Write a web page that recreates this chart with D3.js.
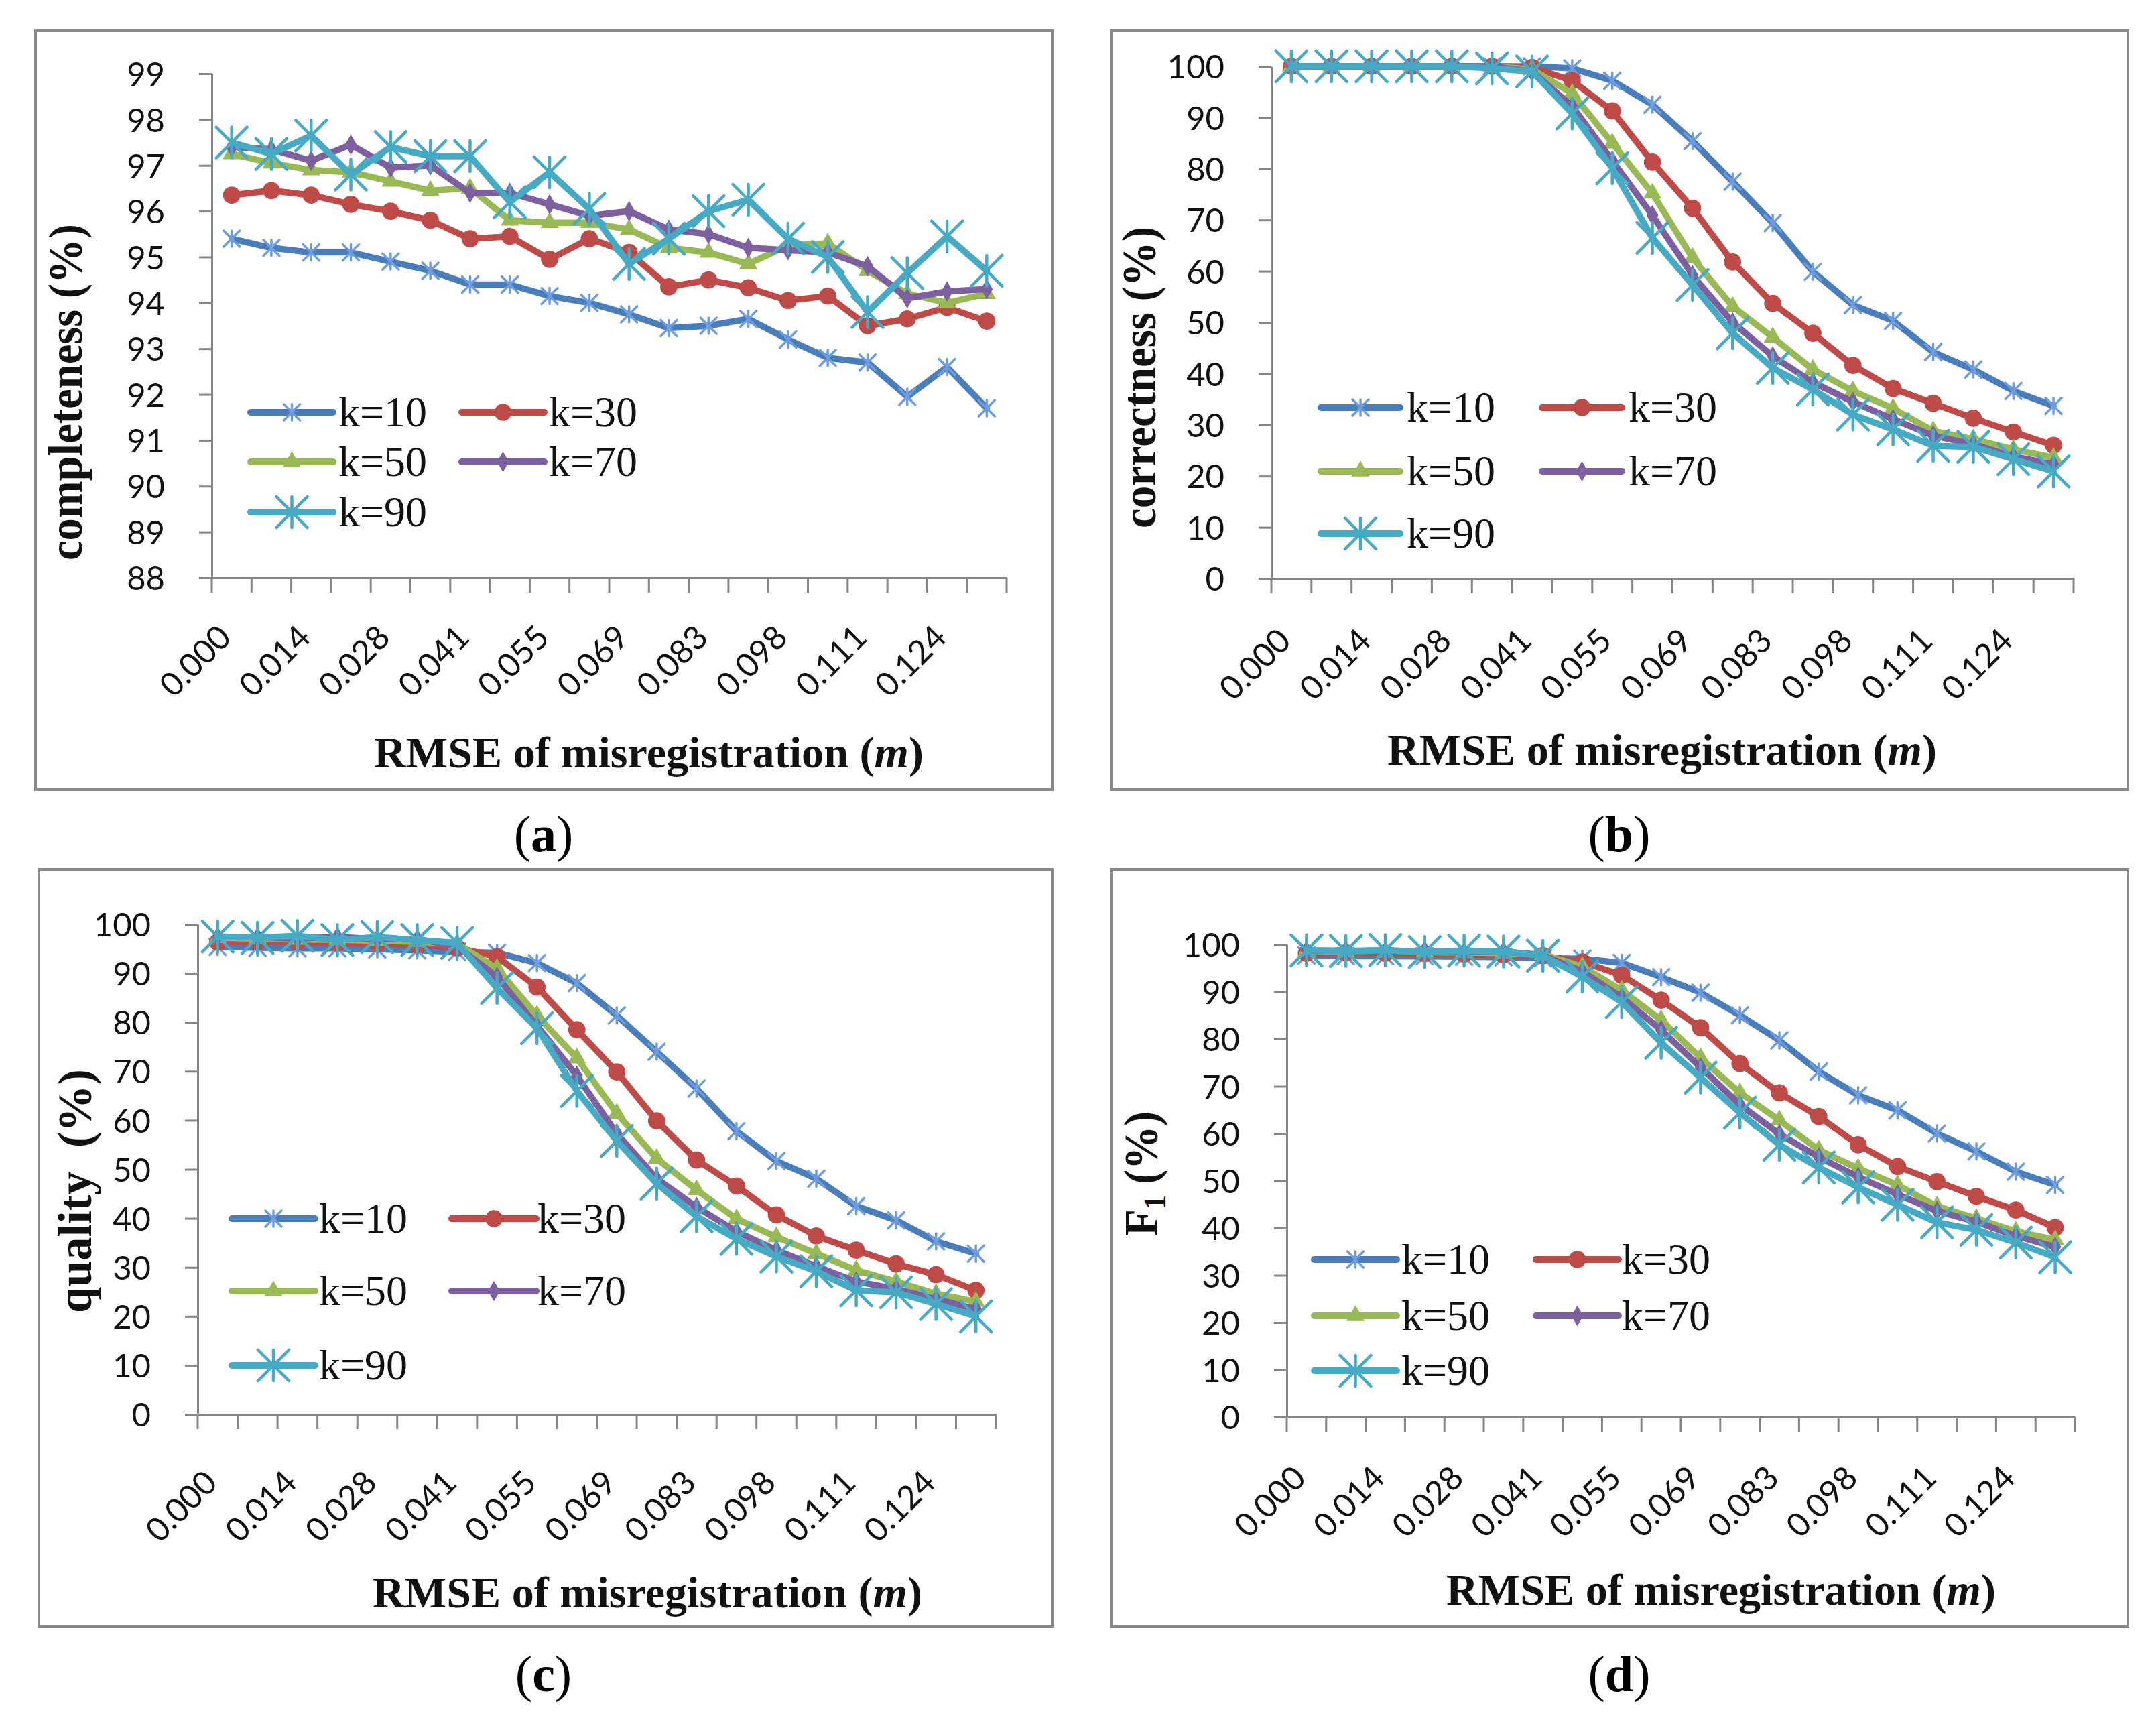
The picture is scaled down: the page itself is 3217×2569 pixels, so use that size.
<!DOCTYPE html>
<html lang="en">
<head>
<meta charset="UTF-8">
<title>Accuracy vs. RMSE of misregistration</title>
<script src="https://d3js.org/d3.v7.min.js"></script>
<style>
  body { margin: 0; background: #fff; }
  svg { display: block; }
</style>
</head>
<body>
<div id="chart"></div>
<script>
  // x categories: RMSE of misregistration (m); only every other one is labelled
  const rmse = ["0.000", "0.007", "0.014", "0.021", "0.028", "0.034", "0.041", "0.048", "0.055", "0.062",
                "0.069", "0.076", "0.083", "0.090", "0.098", "0.104", "0.111", "0.117", "0.124", "0.131"];
  const rmseLabels = rmse.filter((d, i) => i % 2 === 0);
  const seriesNames = ["k=10", "k=30", "k=50", "k=70", "k=90"];

  // y tick labels
  const ticksCompleteness = [88, 89, 90, 91, 92, 93, 94, 95, 96, 97, 98, 99];
  const ticksPercent = [0, 10, 20, 30, 40, 50, 60, 70, 80, 90, 100];

  // (a) completeness (%)
  const complK10 = [95.4, 95.2, 95.1, 95.1, 94.9, 94.7, 94.4, 94.4, 94.15, 94.0, 93.75, 93.45, 93.5, 93.65, 93.2, 92.8, 92.7, 91.95, 92.6, 91.7];
  const complK30 = [96.35, 96.45, 96.35, 96.15, 96.0, 95.8, 95.4, 95.45, 94.95, 95.4, 95.1, 94.35, 94.5, 94.33, 94.05, 94.15, 93.5, 93.65, 93.9, 93.6];
  const complK50 = [97.25, 97.05, 96.9, 96.85, 96.65, 96.45, 96.5, 95.8, 95.75, 95.75, 95.6, 95.2, 95.1, 94.85, 95.25, 95.3, 94.7, 94.2, 94.0, 94.2];
  const complK70 = [97.4, 97.35, 97.1, 97.45, 96.95, 97.0, 96.4, 96.4, 96.15, 95.9, 96.0, 95.6, 95.5, 95.2, 95.15, 95.1, 94.8, 94.1, 94.25, 94.3];
  const complK90 = [97.5, 97.25, 97.65, 96.8, 97.4, 97.2, 97.2, 96.2, 96.85, 96.05, 94.85, 95.4, 96.0, 96.25, 95.4, 95.0, 93.8, 94.65, 95.45, 94.7];

  // (b) correctness (%)
  const corrK10 = [100, 100, 100, 100, 100, 100, 100, 99.6, 97.2, 92.5, 85.4, 77.5, 69.4, 59.9, 53.4, 50.3, 44.2, 40.8, 36.6, 33.7];
  const corrK30 = [100, 100, 100, 100, 100, 100, 99.8, 97.2, 91.3, 81.3, 72.3, 61.8, 53.7, 47.9, 41.6, 37.1, 34.2, 31.3, 28.6, 26.0];
  const corrK50 = [100, 100, 100, 100, 100, 100, 99.4, 94.7, 85.0, 75.2, 62.6, 53.1, 47.1, 40.8, 36.6, 33.2, 28.8, 27.2, 25.2, 23.6];
  const corrK70 = [100, 100, 100, 100, 100, 100, 99.0, 92.2, 81.6, 70.9, 59.2, 50.0, 43.4, 38.3, 34.5, 31.1, 27.9, 26.2, 23.8, 22.3];
  const corrK90 = [100, 100, 100, 100, 100, 99.6, 99.0, 90.8, 80.1, 66.5, 57.3, 47.9, 41.1, 36.9, 32.0, 29.1, 25.9, 25.7, 23.3, 20.9];

  // (c) quality (%)
  const qualK10 = [95.4, 95.2, 95.1, 95.1, 94.9, 94.7, 94.4, 94.2, 92.1, 88.0, 81.4, 74.0, 66.5, 57.8, 51.7, 48.1, 42.5, 39.6, 35.3, 32.8];
  const qualK30 = [96.35, 96.45, 96.35, 96.15, 96.0, 95.8, 95.2, 93.4, 87.2, 78.5, 69.9, 59.9, 51.9, 46.6, 40.7, 36.4, 33.5, 30.7, 28.5, 25.3];
  const qualK50 = [97.25, 97.05, 96.9, 96.85, 96.65, 96.45, 96.0, 91.0, 81.4, 72.7, 61.4, 52.2, 45.8, 39.9, 36.2, 32.8, 29.4, 27.1, 24.6, 23.0];
  const qualK70 = [97.4, 97.35, 97.1, 97.45, 96.95, 97.0, 95.5, 89.3, 79.3, 69.1, 57.3, 48.1, 42.3, 37.3, 33.5, 30.2, 27.1, 25.6, 23.5, 21.5];
  const qualK90 = [97.5, 97.25, 97.65, 96.8, 97.4, 96.8, 96.2, 87.0, 78.8, 66.0, 55.8, 47.1, 40.4, 35.8, 32.2, 29.2, 25.3, 24.9, 22.5, 20.0];

  // (d) F1 (%)
  const f1K10 = [97.65, 97.55, 97.5, 97.5, 97.4, 97.3, 97.1, 97.0, 96.1, 93.1, 89.8, 85.0, 79.7, 73.1, 68.1, 64.9, 60.0, 56.2, 51.9, 49.1];
  const f1K30 = [98.15, 98.2, 98.15, 98.05, 97.95, 97.85, 97.6, 96.3, 93.5, 88.2, 82.4, 74.8, 68.6, 63.6, 57.6, 53.0, 49.8, 46.7, 43.8, 40.1];
  const f1K50 = [98.6, 98.5, 98.4, 98.4, 98.3, 98.2, 97.9, 95.3, 90.3, 84.0, 76.0, 68.6, 62.8, 56.5, 52.6, 49.1, 44.6, 42.0, 39.3, 37.5];
  const f1K70 = [98.7, 98.65, 98.5, 98.7, 98.45, 98.5, 97.7, 94.3, 88.8, 81.9, 74.0, 66.1, 59.9, 55.0, 50.8, 47.1, 43.6, 41.3, 38.3, 36.0];
  const f1K90 = [98.75, 98.6, 98.8, 98.4, 98.7, 98.5, 97.6, 93.2, 87.8, 79.2, 71.8, 64.4, 57.6, 52.8, 48.6, 44.9, 41.2, 39.6, 36.9, 33.8];

  const width = 3217;
  const height = 2569;
  const serif = "'Liberation Serif', 'Times New Roman', serif";
  const sans = "Lato, 'Open Sans', sans-serif";
  const axisColor = "#868686";

  function starPath(h) {
    return `M${-h},${-h}L${h},${h}M${-h},${h}L${h},${-h}M0,${-h}L0,${h}`;
  }

  // look of each series (same order as seriesNames)
  const seriesStyle = [
    { color: "#4a7ebb", marker: starPath(12), mStroke: "#6d9de0", mWidth: 3.5, filled: false },
    { color: "#be4b48", marker: d3.symbol(d3.symbolCircle, 520)(), filled: true },
    { color: "#98b954", marker: d3.symbol(d3.symbolTriangle, 320)(), filled: true },
    { color: "#7d60a0", marker: d3.symbol(d3.symbolDiamond, 270)(), filled: true },
    { color: "#46aac5", marker: starPath(23), mStroke: "#46aac5", mWidth: 4.5, filled: false }
  ];

  const svg = d3.select("#chart")
    .append("svg")
    .attr("width", width)
    .attr("height", height)
    .style("background", "#fff");

  function addMarker(sel, s) {
    sel.attr("d", s.marker);
    if (s.filled) {
      sel.attr("fill", s.color).attr("stroke", "none");
    } else {
      sel.attr("fill", "none").attr("stroke", s.mStroke).attr("stroke-width", s.mWidth)
        .attr("stroke-linecap", "round");
    }
  }

  function drawPanel(p) {
    const g = svg.append("g");

    // frame
    g.append("rect")
      .attr("x", p.box[0]).attr("y", p.box[1])
      .attr("width", p.box[2] - p.box[0]).attr("height", p.box[3] - p.box[1])
      .attr("fill", "none").attr("stroke", "#8a8a8a").attr("stroke-width", 4);

    const x = d3.scaleBand().domain(rmse).range([p.x0, p.x1]).padding(0);
    const y = d3.scaleLinear().domain(d3.extent(p.yTicks)).range([p.yBottom, p.yTop]);
    const cx = c => x(c) + x.bandwidth() / 2;

    // y axis
    const yAxis = g.append("g")
      .attr("transform", `translate(${p.x0},0)`)
      .call(d3.axisLeft(y).tickValues(p.yTicks).tickSize(19).tickSizeOuter(0).tickPadding(51));
    yAxis.select(".domain").attr("stroke", axisColor).attr("stroke-width", 3);
    yAxis.selectAll(".tick line").attr("stroke", axisColor).attr("stroke-width", 3);
    yAxis.selectAll("text")
      .attr("font-family", sans).attr("font-size", 49).attr("fill", "#111")
      .attr("dy", "0.36em");

    // x axis: labels on every other category, tick marks between categories
    const xAxis = g.append("g")
      .attr("transform", `translate(0,${p.yBottom})`)
      .call(d3.axisBottom(x).tickValues(rmseLabels).tickSize(0).tickSizeOuter(0));
    xAxis.select(".domain").attr("stroke", axisColor).attr("stroke-width", 3);
    xAxis.selectAll("text")
      .attr("y", null).attr("dy", null)
      .attr("text-anchor", "end")
      .attr("transform", `translate(2,${p.xLabelOffset}) rotate(-45)`)
      .attr("font-family", sans).attr("font-size", 49).attr("fill", "#111");

    const edges = rmse.map(c => x(c)).concat([x.range()[1]]);
    g.append("g").selectAll("line")
      .data(edges)
      .join("line")
      .attr("x1", d => d).attr("x2", d => d)
      .attr("y1", p.yBottom).attr("y2", p.yBottom + 22)
      .attr("stroke", axisColor).attr("stroke-width", 3);

    // series
    p.series.forEach((vals, si) => {
      const s = seriesStyle[si];
      const pts = vals.map((v, i) => [cx(rmse[i]), y(v)]);
      g.append("path")
        .attr("d", d3.line()(pts))
        .attr("fill", "none").attr("stroke", s.color).attr("stroke-width", 9.5)
        .attr("stroke-linejoin", "round").attr("stroke-linecap", "round");
      g.append("g").selectAll("path")
        .data(pts)
        .join("path")
        .attr("transform", d => `translate(${d[0]},${d[1]})`)
        .call(addMarker, s);
    });

    // legend: two columns, three rows
    seriesNames.forEach((name, si) => {
      const s = seriesStyle[si];
      const col = si % 2;
      const row = Math.floor(si / 2);
      const line = p.legCols[col];
      const ly = p.legRows[row];
      const lg = g.append("g");
      lg.append("line")
        .attr("x1", line[0]).attr("x2", line[1]).attr("y1", ly).attr("y2", ly)
        .attr("stroke", s.color).attr("stroke-width", 10).attr("stroke-linecap", "round");
      lg.append("path")
        .attr("transform", `translate(${(line[0] + line[1]) / 2},${ly})`)
        .call(addMarker, s);
      lg.append("text")
        .attr("x", line[2]).attr("y", ly + 21)
        .attr("font-family", serif).attr("font-size", 64).attr("fill", "#111")
        .text(name);
    });

    // y title
    const yt = g.append("text")
      .attr("transform", `translate(${p.yTitle[0]},${p.yTitle[1]}) rotate(-90)`)
      .attr("text-anchor", "middle")
      .attr("font-family", serif).attr("font-weight", "bold").attr("font-size", 72)
      .attr("fill", "#111")
      .style("white-space", "pre")
      .attr("textLength", p.yTitle[2]).attr("lengthAdjust", "spacingAndGlyphs");
    if (p.yTitleSub) {
      yt.append("tspan").text(p.yTitleText);
      yt.append("tspan").attr("font-size", 46).attr("dy", 12).text(p.yTitleSub);
      yt.append("tspan").attr("dy", -12).text(" (%)");
    } else {
      yt.text(p.yTitleText);
    }

    // x title
    const xt = g.append("text")
      .attr("x", p.xTitle[0]).attr("y", p.xTitle[1])
      .attr("text-anchor", "middle")
      .attr("font-family", serif).attr("font-weight", "bold").attr("font-size", 66)
      .attr("fill", "#111")
      .attr("textLength", 820).attr("lengthAdjust", "spacingAndGlyphs");
    xt.append("tspan").text("RMSE of misregistration (");
    xt.append("tspan").attr("font-style", "italic").text("m");
    xt.append("tspan").text(")");

    // caption under the frame
    const cap = svg.append("text")
      .attr("x", p.caption[0]).attr("y", p.caption[1])
      .attr("text-anchor", "middle")
      .attr("font-family", serif).attr("font-size", 76).attr("fill", "#000");
    cap.append("tspan").text("(");
    cap.append("tspan").attr("font-weight", "bold").text(p.captionLetter);
    cap.append("tspan").text(")");
  }

  drawPanel({
    box: [53, 46, 1570, 1178],
    x0: 316, x1: 1502, yTop: 110, yBottom: 862,
    yTicks: ticksCompleteness, xLabelOffset: 92,
    series: [complK10, complK30, complK50, complK70, complK90],
    legRows: [615, 689, 764], legCols: [[374, 497, 505], [689, 812, 819]],
    yTitleText: "completeness (%)", yTitle: [122, 585, 502],
    xTitle: [968, 1145], caption: [811, 1270], captionLetter: "a"
  });

  drawPanel({
    box: [1658, 46, 3175, 1178],
    x0: 1897, x1: 3094, yTop: 99, yBottom: 863,
    yTicks: ticksPercent, xLabelOffset: 96,
    series: [corrK10, corrK30, corrK50, corrK70, corrK90],
    legRows: [608, 703, 796], legCols: [[1971, 2089, 2099], [2301, 2420, 2430]],
    yTitleText: "correctness (%)", yTitle: [1724, 563, 450],
    xTitle: [2480, 1141], caption: [2416, 1270], captionLetter: "b"
  });

  drawPanel({
    box: [58, 1297, 1570, 2427],
    x0: 295, x1: 1486, yTop: 1379, yBottom: 2110,
    yTicks: ticksPercent, xLabelOffset: 105,
    series: [qualK10, qualK30, qualK50, qualK70, qualK90],
    legRows: [1818, 1926, 2037], legCols: [[346, 470, 476], [674, 800, 802]],
    yTitleText: "quality  (%)", yTitle: [136, 1777, 364],
    xTitle: [966, 2398], caption: [811, 2523], captionLetter: "c"
  });

  drawPanel({
    box: [1658, 1297, 3175, 2427],
    x0: 1920, x1: 3096, yTop: 1409, yBottom: 2114,
    yTicks: ticksPercent, xLabelOffset: 94,
    series: [f1K10, f1K30, f1K50, f1K70, f1K90],
    legRows: [1879, 1963, 2045], legCols: [[1961, 2084, 2091], [2292, 2415, 2420]],
    yTitleText: "F", yTitleSub: "1", yTitle: [1727, 1751, 186],
    xTitle: [2568, 2394], caption: [2416, 2523], captionLetter: "d"
  });
</script>
</body>
</html>
